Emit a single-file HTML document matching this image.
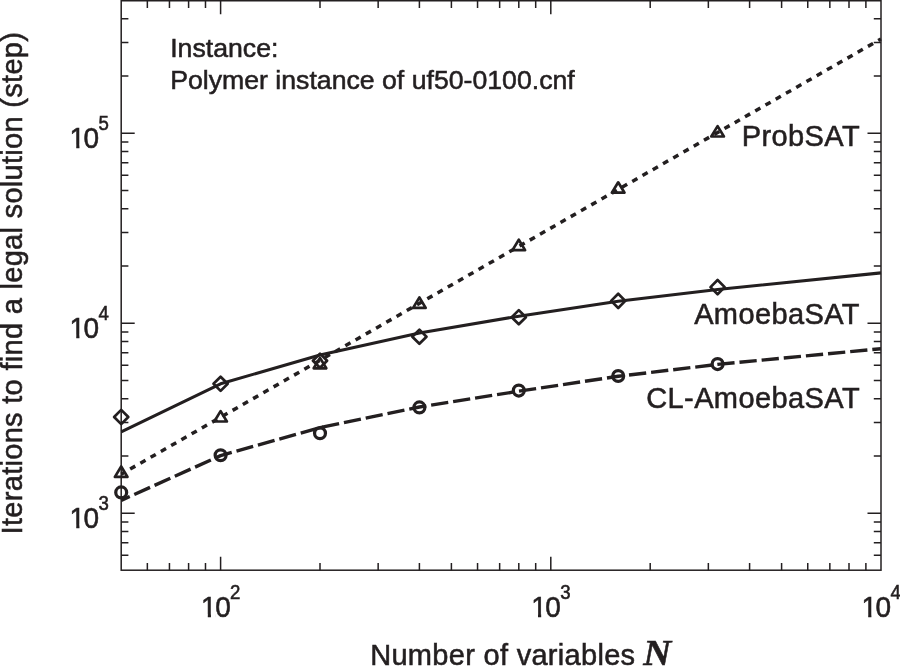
<!DOCTYPE html><html><head><meta charset="utf-8"><title>Figure</title>
<style>html,body{margin:0;padding:0;background:#fff}svg{display:block}text{font-family:"Liberation Sans",sans-serif;fill:#231f20;stroke:#231f20;stroke-width:0.55px}</style></head><body>
<svg width="900" height="666" viewBox="0 0 900 666">
<rect width="900" height="666" fill="#fff"/>
<g stroke="#231f20" stroke-width="1.5" fill="none" stroke-linecap="butt">
<rect x="121.2" y="0.75" width="759.80" height="569.45"/>
<path d="M147.35 570.2v-7.2M147.35 0.75v7.2M169.45 570.2v-7.2M169.45 0.75v7.2M188.60 570.2v-7.2M188.60 0.75v7.2M205.49 570.2v-7.2M205.49 0.75v7.2M220.60 570.2v-13.5M220.60 0.75v13.5M320.00 570.2v-7.2M320.00 0.75v7.2M378.15 570.2v-7.2M378.15 0.75v7.2M419.40 570.2v-7.2M419.40 0.75v7.2M451.40 570.2v-7.2M451.40 0.75v7.2M477.55 570.2v-7.2M477.55 0.75v7.2M499.65 570.2v-7.2M499.65 0.75v7.2M518.80 570.2v-7.2M518.80 0.75v7.2M535.69 570.2v-7.2M535.69 0.75v7.2M550.80 570.2v-13.5M550.80 0.75v13.5M650.20 570.2v-7.2M650.20 0.75v7.2M708.35 570.2v-7.2M708.35 0.75v7.2M749.60 570.2v-7.2M749.60 0.75v7.2M781.60 570.2v-7.2M781.60 0.75v7.2M807.75 570.2v-7.2M807.75 0.75v7.2M829.85 570.2v-7.2M829.85 0.75v7.2M849.00 570.2v-7.2M849.00 0.75v7.2M865.89 570.2v-7.2M865.89 0.75v7.2M121.2 555.35h7.2M881.0 555.35h-7.2M121.2 542.63h7.2M881.0 542.63h-7.2M121.2 531.61h7.2M881.0 531.61h-7.2M121.2 521.89h7.2M881.0 521.89h-7.2M121.2 513.20h13.5M881.0 513.20h-13.5M121.2 456.00h7.2M881.0 456.00h-7.2M121.2 422.55h7.2M881.0 422.55h-7.2M121.2 398.81h7.2M881.0 398.81h-7.2M121.2 380.40h7.2M881.0 380.40h-7.2M121.2 365.35h7.2M881.0 365.35h-7.2M121.2 352.63h7.2M881.0 352.63h-7.2M121.2 341.61h7.2M881.0 341.61h-7.2M121.2 331.89h7.2M881.0 331.89h-7.2M121.2 323.20h13.5M881.0 323.20h-13.5M121.2 266.00h7.2M881.0 266.00h-7.2M121.2 232.55h7.2M881.0 232.55h-7.2M121.2 208.81h7.2M881.0 208.81h-7.2M121.2 190.40h7.2M881.0 190.40h-7.2M121.2 175.35h7.2M881.0 175.35h-7.2M121.2 162.63h7.2M881.0 162.63h-7.2M121.2 151.61h7.2M881.0 151.61h-7.2M121.2 141.89h7.2M881.0 141.89h-7.2M121.2 133.20h13.5M881.0 133.20h-13.5M121.2 76.00h7.2M881.0 76.00h-7.2M121.2 42.55h7.2M881.0 42.55h-7.2M121.2 18.81h7.2M881.0 18.81h-7.2"/>
</g>
<clipPath id="plot"><rect x="120.45" y="0" width="761.30" height="571"/></clipPath>
<g stroke="#231f20" fill="none" stroke-width="3.3" stroke-linejoin="round" clip-path="url(#plot)">
<path d="M121.20 431.90L220.60 383.80L320.00 354.90L419.40 333.00L518.80 316.20L618.20 301.20L717.60 289.50L881.00 272.90" stroke-width="3.1"/>
<path d="M121.20 500.40L220.60 455.60L320.00 427.60L419.40 407.00L518.80 391.20L618.20 376.30L717.60 364.40L881.00 348.70" stroke-dasharray="17.3 4.94" stroke-dashoffset="7.9" stroke-width="3.4"/>
<path d="M316 428.75L320.00 427.6L323 427.02"/>
<path d="M121.2 474.2L881.0 38.9" stroke-dasharray="5.9 5.91" stroke-dashoffset="1.5" stroke-width="3.5"/>
</g>
<g stroke="#231f20" fill="none" stroke-width="2.7" stroke-linejoin="round">
<path d="M114.10 417.00L121.20 409.90L128.30 417.00L121.20 424.10Z"/>
<path d="M213.50 383.80L220.60 376.70L227.70 383.80L220.60 390.90Z"/>
<path d="M312.90 360.70L320.00 353.60L327.10 360.70L320.00 367.80Z"/>
<path d="M412.30 336.70L419.40 329.60L426.50 336.70L419.40 343.80Z"/>
<path d="M511.70 317.20L518.80 310.10L525.90 317.20L518.80 324.30Z"/>
<path d="M611.10 300.90L618.20 293.80L625.30 300.90L618.20 308.00Z"/>
<path d="M710.50 287.10L717.60 280.00L724.70 287.10L717.60 294.20Z"/>
<path d="M114.90 476.90L121.20 466.50L127.50 476.90Z"/>
<path d="M214.30 421.50L220.60 411.10L226.90 421.50Z"/>
<path d="M313.70 368.30L320.00 357.90L326.30 368.30Z"/>
<path d="M413.10 307.90L419.40 297.50L425.70 307.90Z"/>
<path d="M512.50 250.10L518.80 239.70L525.10 250.10Z"/>
<path d="M611.90 192.70L618.20 182.30L624.50 192.70Z"/>
<path d="M711.30 136.50L717.60 126.10L723.90 136.50Z"/>
</g>
<g stroke="#231f20" fill="none" stroke-width="3.25">
<circle cx="121.20" cy="492.40" r="5.45"/>
<circle cx="220.60" cy="455.30" r="5.45"/>
<circle cx="320.00" cy="433.20" r="5.45"/>
<circle cx="419.40" cy="407.40" r="5.45"/>
<circle cx="518.80" cy="390.60" r="5.45"/>
<circle cx="618.20" cy="376.00" r="5.45"/>
<circle cx="717.60" cy="364.10" r="5.45"/>
</g>
<g transform="translate(68.05 147.80) scale(1 1.05)"><text x="0" y="0" font-size="28" clip-path="url(#c0)"><tspan x="1.5">1</tspan><tspan x="15.57">0</tspan></text><text x="30.5" y="-17.14" font-size="18.6">5</text></g>
<g transform="translate(68.05 337.80) scale(1 1.05)"><text x="0" y="0" font-size="28" clip-path="url(#c1)"><tspan x="1.5">1</tspan><tspan x="15.57">0</tspan></text><text x="30.5" y="-17.14" font-size="18.6">4</text></g>
<g transform="translate(68.05 527.80) scale(1 1.05)"><text x="0" y="0" font-size="28" clip-path="url(#c2)"><tspan x="1.5">1</tspan><tspan x="15.57">0</tspan></text><text x="30.5" y="-17.14" font-size="18.6">3</text></g>
<g transform="translate(199.60 617.10) scale(1 1.05)"><text x="0" y="0" font-size="28" clip-path="url(#c3)"><tspan x="1.5">1</tspan><tspan x="15.57">0</tspan></text><text x="30.5" y="-17.14" font-size="18.6">2</text></g>
<g transform="translate(529.80 617.10) scale(1 1.05)"><text x="0" y="0" font-size="28" clip-path="url(#c4)"><tspan x="1.5">1</tspan><tspan x="15.57">0</tspan></text><text x="30.5" y="-17.14" font-size="18.6">3</text></g>
<g transform="translate(860.00 617.10) scale(1 1.05)"><text x="0" y="0" font-size="28" clip-path="url(#c5)"><tspan x="1.5">1</tspan><tspan x="15.57">0</tspan></text><text x="30.5" y="-17.14" font-size="18.6">4</text></g>
<text x="170.2" y="56.7" font-size="26.67">Instance:</text>
<text x="170.2" y="89.1" font-size="26.67">Polymer instance of uf50-0100.cnf</text>
<text x="860" y="146.4" font-size="29" text-anchor="end" letter-spacing="0.4">ProbSAT</text>
<text x="860" y="324" font-size="29" text-anchor="end" letter-spacing="0.4">AmoebaSAT</text>
<text x="860" y="407.6" font-size="29" text-anchor="end" letter-spacing="0.4">CL-AmoebaSAT</text>
<text x="370.2" y="664.9" font-size="29" letter-spacing="0.3">Number of variables</text>
<text transform="translate(643.2 665.1) scale(1.09 1)" font-weight="bold" font-style="italic" font-size="35.5" style="font-family:'Liberation Serif',serif;stroke-width:0.5px">N</text>
<text transform="translate(22.3 534.4) rotate(-90)" font-size="29" letter-spacing="0.3">Iterations to find a legal solution (step)</text>
<defs><clipPath id="c0"><rect x="-3" y="-32" width="46" height="29.00"/><rect x="8.22" y="-3.2" width="3.14" height="6"/><rect x="16.32" y="-3.2" width="30" height="6"/></clipPath><clipPath id="c1"><rect x="-3" y="-32" width="46" height="29.00"/><rect x="8.22" y="-3.2" width="3.14" height="6"/><rect x="16.32" y="-3.2" width="30" height="6"/></clipPath><clipPath id="c2"><rect x="-3" y="-32" width="46" height="29.00"/><rect x="8.22" y="-3.2" width="3.14" height="6"/><rect x="16.32" y="-3.2" width="30" height="6"/></clipPath><clipPath id="c3"><rect x="-3" y="-32" width="46" height="29.00"/><rect x="8.22" y="-3.2" width="3.14" height="6"/><rect x="16.32" y="-3.2" width="30" height="6"/></clipPath><clipPath id="c4"><rect x="-3" y="-32" width="46" height="29.00"/><rect x="8.22" y="-3.2" width="3.14" height="6"/><rect x="16.32" y="-3.2" width="30" height="6"/></clipPath><clipPath id="c5"><rect x="-3" y="-32" width="46" height="29.00"/><rect x="8.22" y="-3.2" width="3.14" height="6"/><rect x="16.32" y="-3.2" width="30" height="6"/></clipPath></defs>
</svg></body></html>
